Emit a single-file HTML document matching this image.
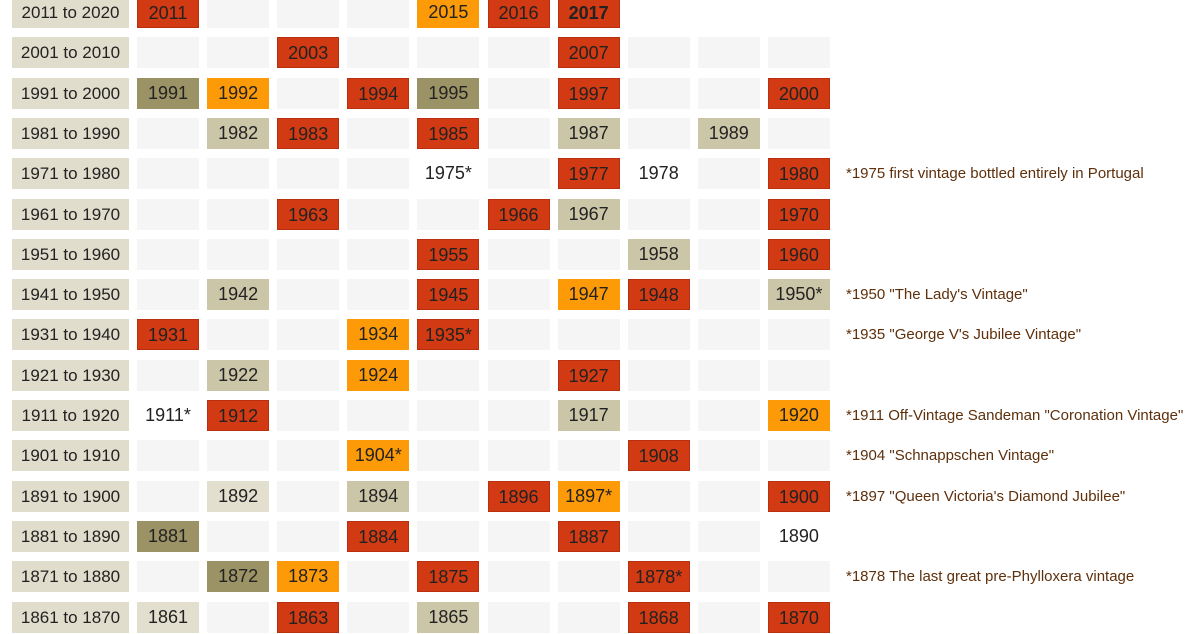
<!DOCTYPE html>
<html><head><meta charset="utf-8"><style>
body{margin:0;width:1200px;height:630px;background:#fff;overflow:hidden;font-family:"Liberation Sans","DejaVu Sans",sans-serif;position:relative}
.c{position:absolute;height:31px;line-height:31px;text-align:center;font-size:18px;color:#222;box-sizing:border-box}
.note{position:absolute;font-size:15px;color:#5e300c;line-height:31px;white-space:nowrap}
</style></head><body>
<div id="g"></div>
<script>
const decades=[2011,2001,1991,1981,1971,1961,1951,1941,1931,1921,1911,1901,1891,1881,1871,1861];
// codes per column (years ending 1..0): R red, O orange, V olive, T tan, L light, P plain, E empty, N none
const ratings=[
"REEEORRNNN",
"EEREEEREEE",
"VOERVEREER",
"ETRERETETE",
"EEEEPERPER",
"EEREERTEER",
"EEEEREETER",
"ETEEREOREТ".replace('Т','T'),
"REEOREEEEE",
"ETEOEEREEE",
"PREEEETEEO",
"EEEOEEEREE",
"ELETEROEER",
"VEEREEREEP",
"EVOEREEREE",
"LEREТEEREЯ".replace('Т','T').replace('Я','R'),
].map(s=>s.split(''));
const stars=["1975","1950","1935","1911","1904","1897","1878"];
const notes={1971:'*1975 first vintage bottled entirely in Portugal',1941:'*1950 "The Lady\'s Vintage"',1931:'*1935 "George V\'s Jubilee Vintage"',1911:'*1911 Off-Vintage Sandeman "Coronation Vintage"',1901:'*1904 "Schnappschen Vintage"',1891:'*1897 "Queen Victoria\'s Diamond Jubilee"',1871:'*1878 The last great pre-Phylloxera vintage'};
const colors={R:'#d13a12',O:'#fd9a08',V:'#9b9265',T:'#ccc6a8',L:'#e3dfcf',P:'#fff',E:'#f5f5f5'};
const g=document.getElementById('g');
decades.forEach((d,r)=>{
 const top=-3+40.3*r;
 const lab=document.createElement('div');
 
 
 lab.className='c';lab.style.cssText=`left:12px;top:${top}px;width:117px;background:#e1ddcc;font-size:17px`;
 lab.textContent=d+' to '+(d+9);g.appendChild(lab);
 ratings[r].forEach((k,i)=>{
  if(k==='N')return;
  const y=d+i;
  const c=document.createElement('div');
  
  
  c.className='c';
  c.style.cssText=`left:${137+70.1*i}px;top:${top}px;width:62px;background:${colors[k]||'#f5f5f5'}`+(k==='R'?';border:1px solid #b83010':'');
  if(k!=='E')c.textContent=y+(stars.includes(String(y))?'*':'');
  if(y===2017)c.style.fontWeight='bold';
  g.appendChild(c);
 });
 if(notes[d]){const n=document.createElement('div');
  
  
  n.className='note';n.style.left='846px';n.style.top=top+'px';n.textContent=notes[d];g.appendChild(n);}
});
</script>
</body></html>
